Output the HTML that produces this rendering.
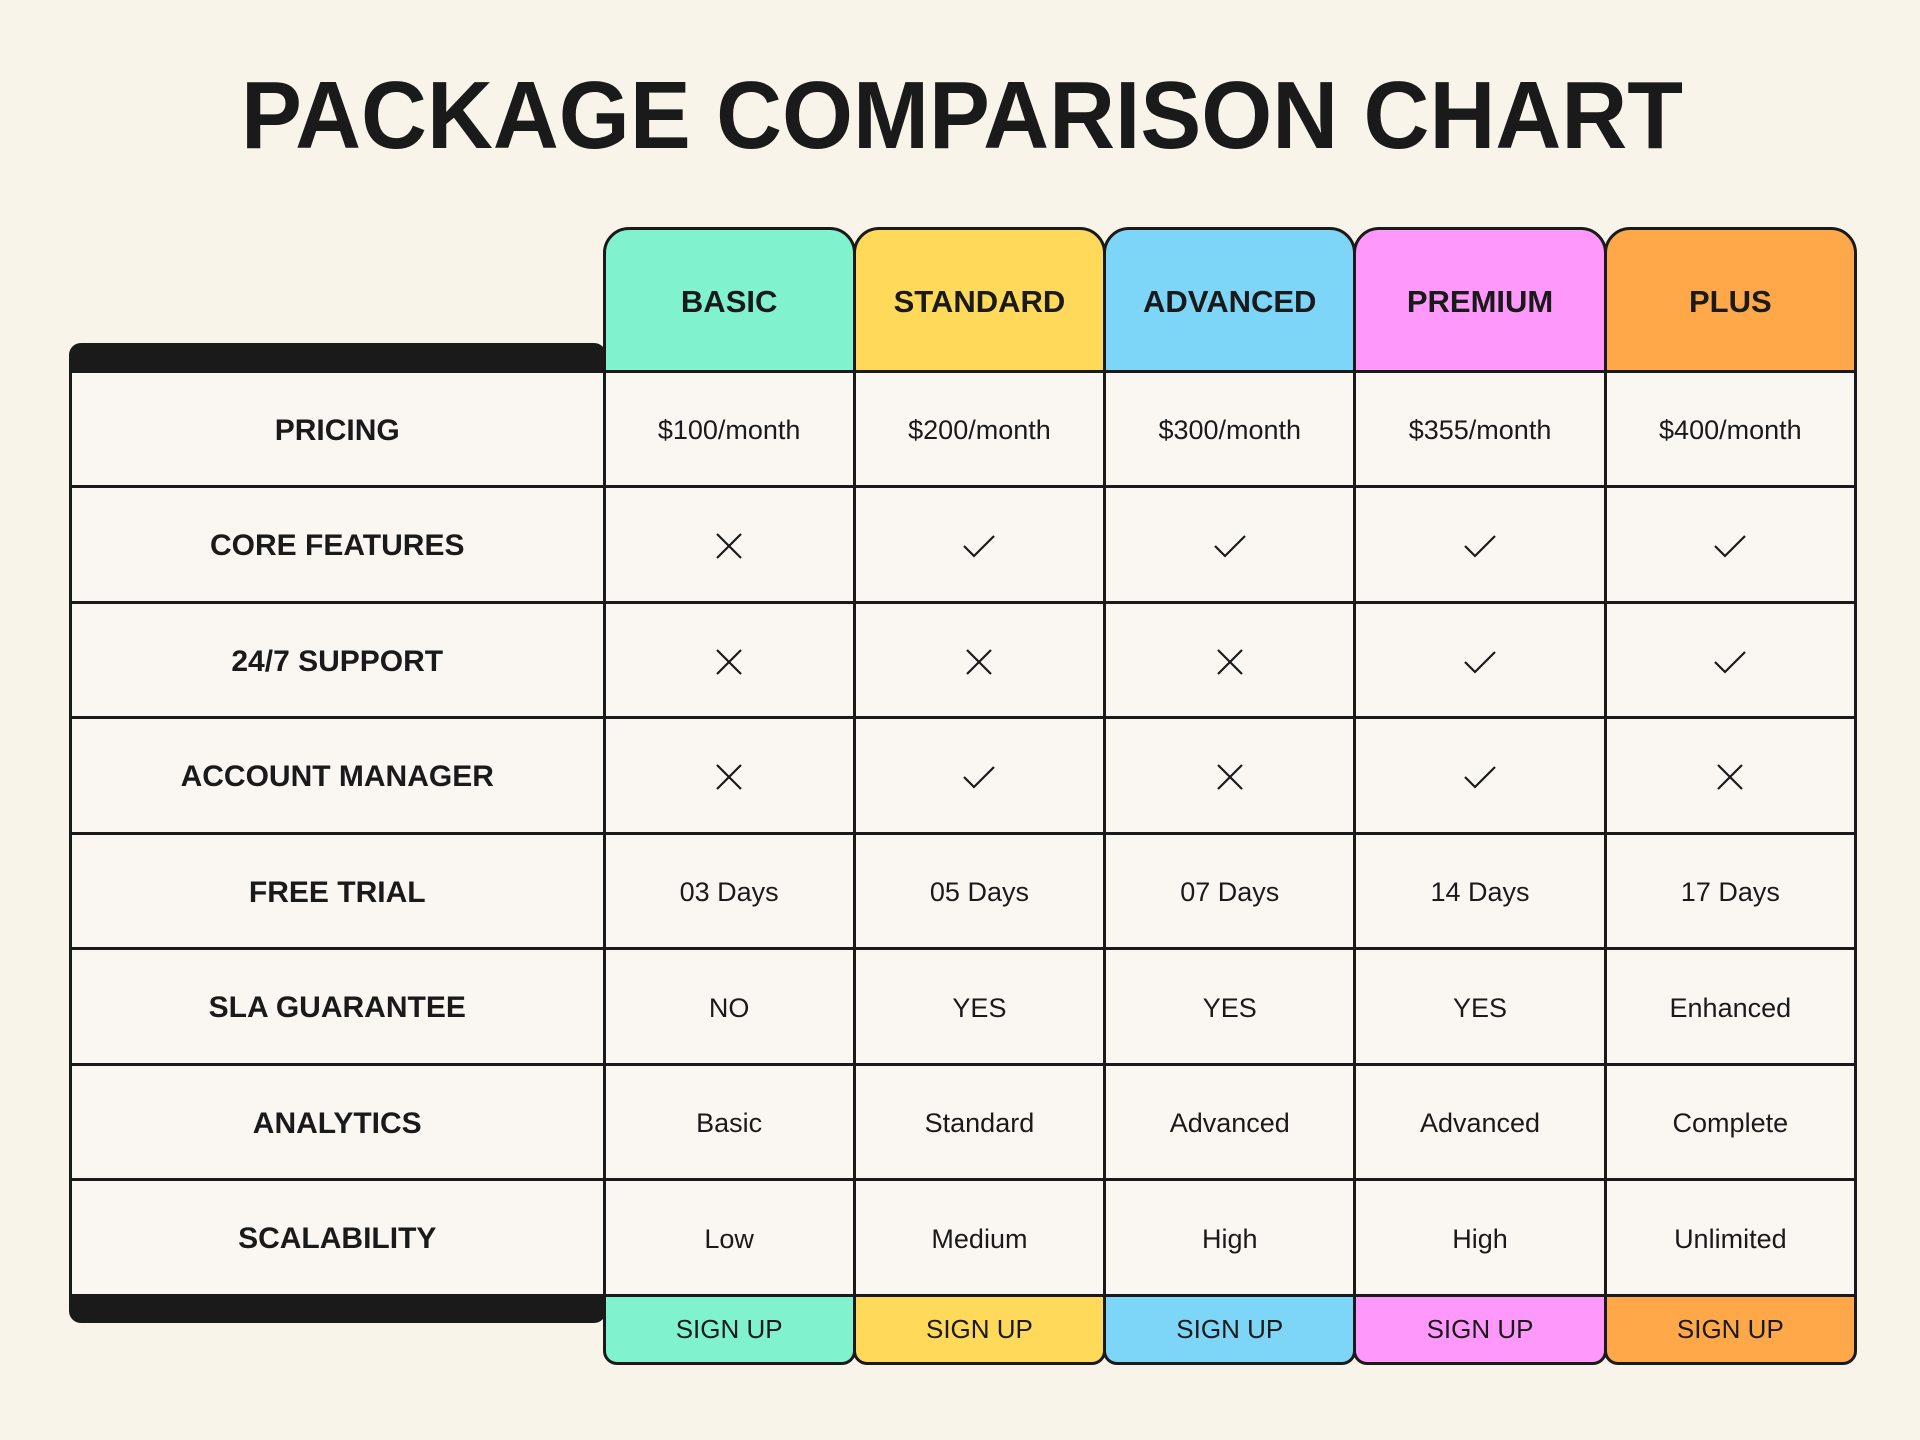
<!DOCTYPE html>
<html><head><meta charset="utf-8">
<style>
*{box-sizing:border-box;margin:0;padding:0}
body{width:1920px;height:1440px;background:#f8f4ea;position:relative;overflow:hidden;font-family:"Liberation Sans",sans-serif;color:#1a1a1a}
.a{position:absolute}
.hd{position:absolute;top:227px;height:146px;border:3px solid #1a1a1a;border-radius:26px 26px 0 0;display:flex;align-items:center;justify-content:center;font-weight:bold;font-size:31px;padding-top:4px}
.cell{position:absolute;background:#faf7f2;border:3px solid #1a1a1a;display:flex;align-items:center;justify-content:center;font-size:27px;padding-top:4px}
.lab{font-weight:bold;font-size:30px}
.su{position:absolute;top:1293px;height:72px;border:3px solid #1a1a1a;border-radius:0 0 14px 14px;display:flex;align-items:center;justify-content:center;font-size:26px}
</style></head><body>
<svg class="a" style="left:0;top:40px" width="1920" height="130"><text x="962" y="108" text-anchor="middle" font-family="Liberation Sans" font-weight="bold" font-size="96" textLength="1442" lengthAdjust="spacingAndGlyphs" fill="#1a1a1a">PACKAGE COMPARISON CHART</text></svg>
<div class="a" style="left:69px;top:343px;width:537px;height:40px;background:#1a1a1a;border-radius:12px 12px 0 0"></div>
<div class="a" style="left:69px;top:1285px;width:537px;height:38px;background:#1a1a1a;border-radius:0 0 12px 12px"></div>
<div id="t"></div>
<script>
const plans=["BASIC","STANDARD","ADVANCED","PREMIUM","PLUS"];
const colors=["#80f2cd","#ffd95a","#7dd6f7","#fe99fb","#ffa84a"];
const rows=["PRICING","CORE FEATURES","24/7 SUPPORT","ACCOUNT MANAGER","FREE TRIAL","SLA GUARANTEE","ANALYTICS","SCALABILITY"];
const vals=[
["$100/month","$200/month","$300/month","$355/month","$400/month"],
["x","v","v","v","v"],
["x","x","x","v","v"],
["x","v","x","v","x"],
["03 Days","05 Days","07 Days","14 Days","17 Days"],
["NO","YES","YES","YES","Enhanced"],
["Basic","Standard","Advanced","Advanced","Complete"],
["Low","Medium","High","High","Unlimited"]];
const X0=604,CW=250.3,Y0=371,RH=115.5,LX=69;
const t=document.getElementById('t');
const CHECK='<svg width="34" height="26" viewBox="0 0 34 26"><path d="M2 13 L12 23 L32 3" fill="none" stroke="#1a1a1a" stroke-width="2.2"/></svg>';
const CROSS='<svg width="28" height="28" viewBox="0 0 28 28"><path d="M2 2 L26 26 M26 2 L2 26" fill="none" stroke="#1a1a1a" stroke-width="2.2"/></svg>';
plans.forEach((p,i)=>{
 const h=document.createElement('div');h.className='hd';
 
 
 h.style.left=(X0+i*CW-1.5)+'px';h.style.width=(CW+3)+'px';h.style.background=colors[i];h.textContent=p;t.appendChild(h);
 const s=document.createElement('div');s.className='su';
 
 
 s.style.left=(X0+i*CW-1.5)+'px';s.style.width=(CW+3)+'px';s.style.background=colors[i];s.textContent='SIGN UP';t.appendChild(s);
});
rows.forEach((r,j)=>{
 const y=Y0+j*RH;
 const l=document.createElement('div');l.className='cell lab';
 
 
 l.style.left=LX+'px';l.style.top=(y-1.5)+'px';l.style.width=(X0-LX+1.5)+'px';l.style.height=(RH+3)+'px';l.textContent=r;t.appendChild(l);
 vals[j].forEach((v,i)=>{
  const c=document.createElement('div');c.className='cell';
  
  
  c.style.left=(X0+i*CW-1.5)+'px';c.style.top=(y-1.5)+'px';c.style.width=(CW+3)+'px';c.style.height=(RH+3)+'px';
  if(v==='v')c.innerHTML=CHECK;else if(v==='x')c.innerHTML=CROSS;else c.textContent=v;
  t.appendChild(c);
 });
});
</script>
</body></html>
